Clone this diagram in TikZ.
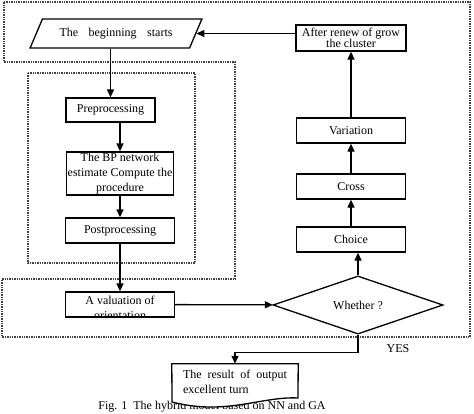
\documentclass[tikz,border=0pt]{standalone}
\usepackage{fontspec}
\setmainfont{Liberation Serif}
\usetikzlibrary{arrows.meta,shapes.geometric,positioning,calc,backgrounds}

\begin{document}
\begin{tikzpicture}
[x=1pt,y=-1pt,font=\fontsize{12}{15}\selectfont,
edge/.style={line width=1.3pt,-{Triangle[length=8pt,width=7pt]}},
box/.style={draw,line width=1.3pt,rectangle,fill=white,inner sep=1pt,align=center,minimum width=109pt,minimum height=25pt},
frame/.style={densely dotted,line width=1.4pt,black!75}]
%%%%%%%%%%
\useasboundingbox (0,0) rectangle (474,413);

\def \leftcol {120}
\def \rightcol {351}

% dotted frames
\draw[frame] (4,2) -- (470,2) -- (470,337) -- (2,337) -- (2,279) -- (235,279) -- (235,62) -- (4,62) -- cycle;
\draw[frame] (28,73) rectangle (195,263);

% left column
\node[draw,line width=1.3pt,trapezium,trapezium left angle=49,trapezium right angle=131,
trapezium stretches=true,minimum width=172pt,minimum height=29pt,inner sep=0pt,fill=white]
  (start) at (116,33.5) {\makebox[113pt][s]{The beginning starts}};
\node[box,minimum width=89pt,minimum height=24pt] (pre) at (110.5,110) {Preprocessing};
\node[box,minimum width=107pt,minimum height=43pt] (bp) at (\leftcol,173.5) {The BP network\\estimate Compute the\\procedure};
\node[box] (post) at (\leftcol,230.5) {Postprocessing};
\node[box,path picture={\node[align=center] at ([yshift=-3pt]path picture bounding box.center) {A valuation of\\orientation};}]
  (val) at (\leftcol,304.5) {};

% right column
\node[draw,line width=1.3pt,diamond,minimum width=170pt,minimum height=44pt,inner sep=0pt,fill=white]
  (whether) at (358,305) {Whether ?};
\node[box] (choice) at (\rightcol,239.5) {Choice};
\node[box] (cross) at (\rightcol,186.5) {Cross};
\node[box] (var) at (\rightcol,130.5) {Variation};
\node[box,minimum width=110pt,minimum height=26pt,inner sep=0pt,font=\fontsize{12}{11.5}\selectfont] (renew) at (\rightcol,38) {After renew of grow\\the cluster};

\node (yes) at (398,349) {YES};

% result, drawn over the caption
\node[minimum width=126pt,minimum height=36pt,inner sep=0pt,text width=104pt,align=justify] (result) at (235,382) {The result of output excellent turn};
\begin{scope}[on background layer]
\node (fig) at (212,407) {Fig. 1\enspace The hybrid model based on NN and GA};
\filldraw[line width=1.3pt,fill=white] (result.north west) -- (result.north east) -- (298,398)
  .. controls (262,396) and (226,416) .. (172,402) -- cycle;
\end{scope}

% connectors
\draw[edge] (start.south -| pre.north) -- (pre.north);
\draw[edge] (pre.south -| bp.north) -- (bp.north);
\draw[edge] (bp) -- (post);
\draw[edge] (post) -- (val);
\draw[edge] (val) -- (whether);
\draw[edge] (whether.north) -- (whether.north |- choice.south);
\draw[edge] (choice) -- (cross);
\draw[edge] (cross) -- (var);
\draw[edge] (var) -- (renew);
\draw[edge] (renew.west |- start.east) -- (start.east);
\draw[edge] (whether.south) -- ++(0,18) -| (result.north);
\end{tikzpicture}
\end{document}
